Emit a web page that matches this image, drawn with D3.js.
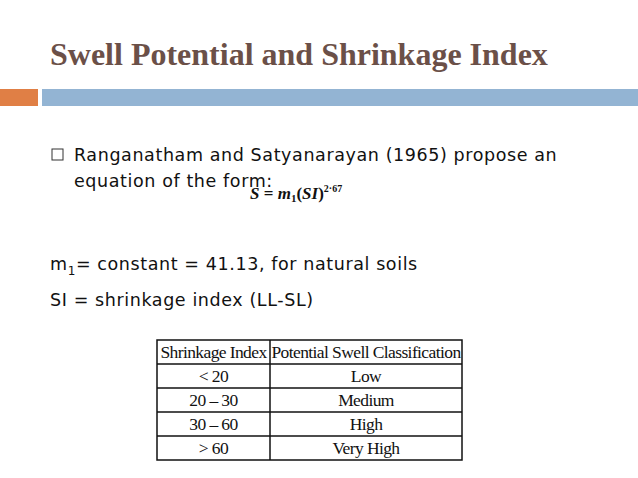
<!DOCTYPE html>
<html><head><meta charset="utf-8">
<script src="https://cdn.jsdelivr.net/npm/d3@7"></script>
<style>body{margin:0;background:#fff}</style>
</head><body>
<svg id="s" width="638" height="478"></svg>
<script>
var headers = ["Shrinkage Index", "Potential Swell Classification"]
var siRanges = ["< 20", "20 – 30", "30 – 60", "> 60"]
var classes = ["Low", "Medium", "High", "Very High"]

var svg = d3.select("#s")
var sans = "'DejaVu Sans', sans-serif"

svg.append("text").attr("x", 50).attr("y", 65)
  .attr("font-family", "'Liberation Serif', serif").attr("font-weight", "bold")
  .attr("font-size", 32).attr("fill", "#6b5048")
  .text("Swell Potential and Shrinkage Index")

svg.append("rect").attr("x", 0).attr("y", 89).attr("width", 38).attr("height", 17).attr("fill", "#e07f45")
svg.append("rect").attr("x", 42).attr("y", 89).attr("width", 596).attr("height", 17).attr("fill", "#93b4d3")

svg.append("rect").attr("x", 52).attr("y", 149).attr("width", 11).attr("height", 11)
  .attr("fill", "none").attr("stroke", "#333").attr("stroke-width", 1)

function bodyText(x, y){
  return svg.append("text").attr("x", x).attr("y", y).attr("font-family", sans)
    .attr("font-size", 17.5).attr("letter-spacing", 0.6).attr("fill", "#111")
}
bodyText(74, 161).text("Ranganatham and Satyanarayan (1965) propose an")
bodyText(74, 187).text("equation of the form:")

var eq = svg.append("text").attr("x", 250).attr("y", 199)
  .attr("font-family", "'Liberation Serif', serif").attr("font-weight", "bold")
  .attr("font-style", "italic").attr("font-size", 17).attr("fill", "#111")
eq.append("tspan").text("S")
eq.append("tspan").attr("font-style", "normal").text(" = ")
eq.append("tspan").text("m")
eq.append("tspan").attr("font-style", "normal").attr("font-size", 11).attr("dy", 3).text("1")
eq.append("tspan").attr("font-style", "normal").attr("dy", -3).text("(")
eq.append("tspan").text("SI")
eq.append("tspan").attr("font-style", "normal").text(")")
eq.append("tspan").attr("font-style", "normal").attr("font-size", 10).attr("dy", -7).text("2·67")

var m = bodyText(50, 270)
m.append("tspan").text("m")
m.append("tspan").attr("font-size", 12).attr("dy", 5).text("1")
m.append("tspan").attr("dy", -5).text("= constant = 41.13, for natural soils")

bodyText(50, 306).text("SI = shrinkage index (LL-SL)")

// table
var rows = [headers].concat(siRanges.map(function(r, i){ return [r, classes[i]] }))
var y = d3.scaleBand().domain(d3.range(rows.length)).range([340, 460])
var colX = [157, 270, 462]
var tbl = svg.append("g")
tbl.append("rect").attr("x", colX[0]).attr("y", 340).attr("width", colX[2]-colX[0]).attr("height", 120)
  .attr("fill", "none").attr("stroke", "#111").attr("stroke-width", 1.5)
tbl.selectAll("line.h").data(d3.range(1, rows.length)).enter().append("line")
  .attr("x1", colX[0]).attr("x2", colX[2]).attr("y1", function(d){ return y(d) }).attr("y2", function(d){ return y(d) })
  .attr("stroke", "#111").attr("stroke-width", 1.5)
tbl.append("line").attr("x1", colX[1]).attr("x2", colX[1]).attr("y1", 340).attr("y2", 460)
  .attr("stroke", "#111").attr("stroke-width", 1.5)
rows.forEach(function(r, i){
  r.forEach(function(c, j){
    tbl.append("text").attr("x", (colX[j]+colX[j+1])/2).attr("y", y(i)+y.bandwidth()/2+6)
      .attr("text-anchor", "middle").attr("font-family", "'Liberation Serif', serif")
      .attr("font-size", 17.5).attr("letter-spacing", -0.6).attr("fill", "#111").text(c)
  })
})
</script>
</body></html>
